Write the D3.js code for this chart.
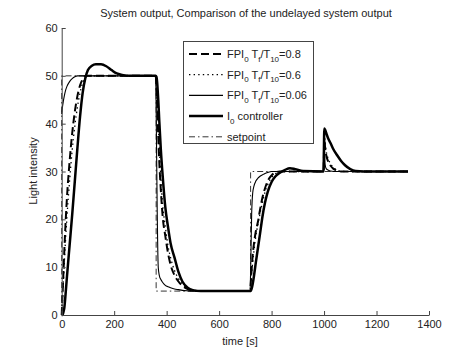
<!DOCTYPE html>
<html><head><meta charset="utf-8">
<script src="https://cdn.jsdelivr.net/npm/d3@7"></script>
<style>
body{margin:0;background:#fff;}
svg{display:block;font-family:"Liberation Sans",Arial,Helvetica,sans-serif;}
</style></head>
<body><svg id="c" width="474" height="355"></svg>
<script>
// ---- data ----
const times = [
  0, 3, 6, 10, 15, 20, 30, 40, 50, 60, 70, 80, 90, 100, 115, 130, 150, 170, 190, 210, 230, 260, 300, 358,
  361, 364, 368, 372, 378, 385, 395, 405, 415, 430, 445, 460, 480, 500, 530, 600, 718,
  721, 724, 728, 733, 740, 748, 756, 765, 775, 785, 800, 815, 830, 850, 870, 890, 920, 998,
  1001, 1004, 1008, 1015, 1025, 1035, 1050, 1065, 1080, 1100, 1120, 1150, 1200, 1260, 1320
];
const fpi08 = [
  0, 4, 8, 13.5, 19.5, 24.5, 32, 38, 42.5, 45.8, 48, 49.3, 49.9, 50, 50, 50, 50, 50, 50, 50, 50, 50, 50, 50,
  48, 44, 37.5, 32, 26, 20.5, 16.5, 13, 10.5, 8.3, 7, 6.1, 5.4, 5.1, 5, 5, 5,
  7, 9.5, 12.5, 15, 17.5, 19.5, 22, 24.5, 26.5, 28, 29.2, 29.8, 30, 30, 30, 30, 30, 30,
  37, 35, 33.5, 32.2, 31.2, 30.6, 30.2, 30, 30, 30, 30, 30, 30, 30, 30
];
const fpi06 = [
  0, 3, 6.5, 11, 16, 20.5, 28, 34.5, 39.5, 43.5, 46.5, 48.5, 49.6, 50, 50, 50, 50, 50, 50, 50, 50, 50, 50, 50,
  48.5, 45.5, 40, 35, 28.5, 23, 18.5, 14.5, 12, 9.3, 7.6, 6.5, 5.6, 5.2, 5, 5, 5,
  6.5, 8.5, 11, 13.5, 16.5, 19, 21.2, 23.5, 25.7, 27.2, 28.7, 29.5, 29.9, 30, 30, 30, 30, 30,
  37.5, 35.8, 34.3, 32.8, 31.6, 30.9, 30.3, 30.1, 30, 30, 30, 30, 30, 30, 30
];
const fpi006 = [
  42, 43.5, 44.6, 45.8, 47, 47.8, 48.8, 49.4, 49.8, 50, 50, 50, 50, 50, 50, 50, 50, 50, 50, 50, 50, 50, 50, 50,
  38, 22, 10, 8.3, 7.4, 6.8, 6.2, 5.9, 5.7, 5.45, 5.3, 5.15, 5.05, 5, 5, 5, 5,
  12, 21, 25.5, 27, 28, 28.6, 29, 29.3, 29.6, 29.8, 30, 30, 30, 30, 30, 30, 30, 30,
  35, 31.5, 30.6, 30.3, 30.1, 30, 30, 30, 30, 30, 30, 30, 30, 30, 30
];
const i0ctrl = [
  0, 0, 0.5, 1.5, 4.5, 8, 14.5, 21, 28, 35, 41.5, 46.5, 49.5, 51.2, 52.1, 52.4, 52.4, 52, 51.2, 50.5, 50.2, 50, 50, 50,
  49.8, 48.5, 45, 40.5, 34.5, 29, 22.5, 18.5, 15, 12, 9, 7, 5.7, 5.2, 5, 5, 5,
  5.1, 5.5, 6.5, 8.2, 11, 14, 17, 20.5, 23.5, 25.7, 27.8, 29, 29.7, 30.3, 30.7, 30.5, 30.1, 30,
  39, 38.7, 38.1, 37, 35.9, 34.7, 33.4, 32.2, 31.3, 30.5, 30.1, 30, 30, 30, 30
];
const setTimes = [0, 0, 360, 360, 720, 720, 1320];
const setValues = [0, 50, 50, 5, 5, 30, 30];
const xTicks = [0, 200, 400, 600, 800, 1000, 1200, 1400];
const yTicks = [0, 10, 20, 30, 40, 50, 60];
const legendLabels = [
  [["FPI",0],["0",1],[" T",0],["f",1],["/T",0],["10",1],["=0.8",0]],
  [["FPI",0],["0",1],[" T",0],["f",1],["/T",0],["10",1],["=0.6",0]],
  [["FPI",0],["0",1],[" T",0],["f",1],["/T",0],["10",1],["=0.06",0]],
  [["I",0],["0",1],[" controller",0]],
  [["setpoint",0]]
];

// ---- chart ----
const svg = d3.select("#c");
const x = d3.scaleLinear().domain([0, 1400]).range([61.7, 429]);
const y = d3.scaleLinear().domain([0, 60]).range([315, 28]);

svg.append("rect").attr("width",474).attr("height",355).attr("fill","#fff");

const styles = [
  {w:2, dash:"8,4"},
  {w:1.3, dash:"1.4,3.2"},
  {w:1.1, dash:null},
  {w:2.5, dash:null},
  {w:0.8, dash:"6,3,1.5,3"}
];

const zip = (t, v) => t.map((d,i)=>[d, v[i]]);
const lineSmooth = d3.line().x(d=>x(d[0])).y(d=>y(d[1])).curve(d3.curveMonotoneX);
const lineStep = d3.line().x(d=>x(d[0])).y(d=>y(d[1]));

const series = [
  {data: zip(times, i0ctrl), s: styles[3]},
  {data: zip(times, fpi08), s: styles[0]},
  {data: zip(times, fpi06), s: styles[1]},
  {data: zip(times, fpi006), s: styles[2]}
];
series.forEach(o=>{
  svg.append("path").attr("d", lineSmooth(o.data)).attr("fill","none")
    .attr("stroke","#000").attr("stroke-width",o.s.w)
    .attr("stroke-linejoin","round")
    .attr("stroke-dasharray",o.s.dash);
});
svg.append("path").attr("d", lineStep(zip(setTimes,setValues))).attr("fill","none")
  .attr("stroke","#000").attr("stroke-width",styles[4].w).attr("stroke-dasharray",styles[4].dash);

// axes
const xAxis = d3.axisBottom(x).tickValues(xTicks).tickFormat(d3.format("d")).tickSizeInner(-4).tickSizeOuter(0).tickPadding(5);
const yAxis = d3.axisLeft(y).tickValues(yTicks).tickFormat(d3.format("d")).tickSizeInner(-4).tickSizeOuter(0).tickPadding(4);
const gx = svg.append("g").attr("transform","translate(0,315)").call(xAxis);
const gy = svg.append("g").attr("transform","translate(61.7,0)").call(yAxis);
[gx, gy].forEach(g=>{
  g.selectAll("path,line").attr("stroke","#444");
  g.selectAll("text").attr("fill","#222").style("font-size","11px").style("font-family",'"Liberation Sans",Arial,sans-serif');
});

// labels
svg.append("text").attr("x",246).attr("y",17).attr("text-anchor","middle")
  .style("font-size","11px").attr("fill","#222")
  .text("System output, Comparison of the undelayed system output");
svg.append("text").attr("x",240).attr("y",345).attr("text-anchor","middle")
  .style("font-size","11px").attr("fill","#222").text("time [s]");
svg.append("text").attr("transform","translate(37,171) rotate(-90)").attr("text-anchor","middle")
  .style("font-size","11px").attr("fill","#222").text("Light intensity");

// legend
const lg = svg.append("g");
lg.append("rect").attr("x",183.5).attr("y",41.5).attr("width",130).attr("height",102)
  .attr("fill","#fff").attr("stroke","#444").attr("stroke-width",1);
legendLabels.forEach((parts,i)=>{
  const ry = 54 + i*20.7;
  const s = styles[i];
  lg.append("line").attr("x1",189).attr("x2",223).attr("y1",ry).attr("y2",ry)
    .attr("stroke","#000").attr("stroke-width",s.w).attr("stroke-dasharray",s.dash);
  const t = lg.append("text").attr("x",227).attr("y",ry+4).style("font-size","11px").attr("fill","#222");
  let sub = false;
  parts.forEach(([txt,isSub])=>{
    const sp = t.append("tspan").text(txt);
    if (isSub && !sub) { sp.attr("dy",3.5).style("font-size","8px"); sub = true; }
    else if (isSub && sub) { sp.style("font-size","8px"); }
    else if (!isSub && sub) { sp.attr("dy",-3.5); sub = false; }
  });
});
</script>
</body></html>
